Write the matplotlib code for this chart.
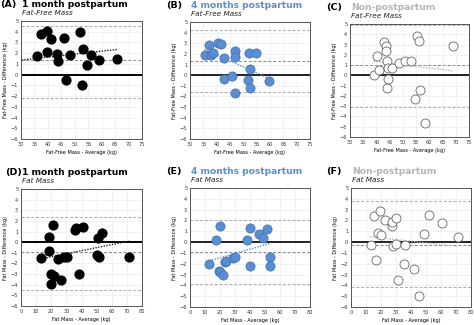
import matplotlib
matplotlib.use("Agg")
import matplotlib.pyplot as plt
import numpy as np

# ---- data ----
a_x = [35.9, 37.4, 39.5, 39.5, 41.1, 43.3, 43.8, 46.1, 46.8, 48.2, 51.8, 52.7, 53.2, 54.5, 56.1, 59.0, 65.8]
a_y = [1.73, 3.77, 4.04, 2.13, 3.36, 1.88, 1.30, 3.46, -0.49, 1.82, 3.95, -0.93, 2.35, 0.93, 1.82, 1.39, 1.48]
a_lines = [1.39, 4.57, -2.22]
a_reg = [(30.2, 1.36), (65.8, 2.35)]

b_x = [35.5, 37.3, 37.7, 38.7, 40.6, 41.6, 42.7, 42.7, 45.9, 47.0, 47.0, 46.9, 52.0, 51.8, 52.6, 52.6, 54.8, 59.6]
b_y = [1.9, 2.8, 1.9, 2.05, 2.98, 2.9, 1.62, -0.33, -0.04, 2.3, 1.72, -1.7, 2.1, -0.41, 0.57, -1.23, 2.1, -0.53]
b_lines = [1.33, 4.23, -1.6]
b_reg = [(35.5, 2.4), (59.6, -0.3)]

c_x = [40.2, 38.9, 40.8, 42.8, 43.6, 43.8, 44.0, 44.3, 44.3, 44.1, 45.7, 48.5, 50.7, 53.1, 55.4, 56.0, 56.4, 54.6, 58.5, 69.1]
c_y = [1.84, 0.0, 0.49, 3.28, 2.85, 2.33, 1.41, 0.75, -0.33, -1.21, 0.72, 1.21, 1.44, 1.41, 3.87, 3.31, -1.38, -2.26, -4.59, 2.89]
c_lines = [1.05, 4.95, -3.08]
c_reg = [(38.9, 1.38), (69.1, 0.43)]

d_x = [13.2, 18.2, 18.7, 19.8, 19.8, 21.1, 22.0, 24.6, 26.6, 28.1, 30.3, 35.4, 36.3, 38.5, 40.7, 50.1, 50.8, 51.6, 53.8, 71.6]
d_y = [-1.48, -0.85, 0.50, -2.96, -3.9, 1.60, -3.2, -1.57, -3.52, -1.38, -1.38, 1.19, 1.32, -2.96, 1.45, -1.23, 0.35, -1.38, 0.88, -1.38]
d_lines = [-0.88, 2.36, -4.47]
d_reg = [(13.2, -1.57), (71.2, 0.1)]

e_x = [12.8, 17.2, 20.3, 19.4, 20.3, 22.1, 23.2, 24.1, 28.7, 30.0, 38.2, 39.7, 40.0, 46.1, 48.9, 51.0, 53.2, 53.4]
e_y = [-2.04, 0.15, 1.49, -2.63, -2.76, -3.03, -1.86, -1.73, -1.49, -1.36, 0.15, 1.30, -2.23, 0.74, 0.37, 1.24, -1.36, -2.23]
e_lines = [-0.87, 2.01, -3.87]
e_reg = [(12.8, -1.73), (53.4, -0.12)]

f_x = [13.3, 15.0, 16.6, 17.7, 19.4, 20.1, 22.5, 27.0, 27.6, 28.1, 30.1, 30.1, 31.2, 36.0, 35.4, 42.2, 45.1, 48.8, 51.7, 60.6, 71.2]
f_y = [-0.31, 2.45, -1.61, 0.80, 2.85, 0.65, 2.04, 1.52, 1.89, -0.37, -0.19, 2.23, -3.5, -0.31, -2.07, -2.48, -5.02, 0.74, 2.54, 1.76, 0.43]
f_lines = [-0.25, 3.81, -4.15]
f_reg = [(12.5, 0.50), (71.2, -0.40)]

W, H = 474, 325
fig = plt.figure(figsize=(W / 100, H / 100), dpi=100)

BLUE = "#5b8ed0"
GRAY = "#b5b5b5"

panels = [
    dict(tag="(A)", title="1 month postpartum", sub="Fat-Free Mass", tc="black",
         x=a_x, y=a_y, lines=a_lines, reg=a_reg, box=(21, 142, 21, 139),
         xlim=(30, 75), xstep=5, style="black", tagx=0, kind="ffm"),
    dict(tag="(B)", title="4 months postpartum", sub="Fat-Free Mass", tc=BLUE,
         x=b_x, y=b_y, lines=b_lines, reg=b_reg, box=(190, 310, 22, 139),
         xlim=(30, 75), xstep=5, style="blue", tagx=166, kind="ffm"),
    dict(tag="(C)", title="Non-postpartum", sub="Fat-Free Mass", tc=GRAY,
         x=c_x, y=c_y, lines=c_lines, reg=c_reg, box=(350, 469, 24, 137),
         xlim=(30, 75), xstep=5, style="white", tagx=326, kind="ffm"),
    dict(tag="(D)", title="1 month postpartum", sub="Fat Mass", tc="black",
         x=d_x, y=d_y, lines=d_lines, reg=d_reg, box=(21, 142, 189, 306),
         xlim=(0, 80), xstep=10, style="black", tagx=5, kind="fm"),
    dict(tag="(E)", title="4 months postpartum", sub="Fat Mass", tc=BLUE,
         x=e_x, y=e_y, lines=e_lines, reg=e_reg, box=(190, 310, 188, 307),
         xlim=(0, 80), xstep=10, style="blue", tagx=166, kind="fm"),
    dict(tag="(F)", title="Non-postpartum", sub="Fat Mass", tc=GRAY,
         x=f_x, y=f_y, lines=f_lines, reg=f_reg, box=(351, 471, 188, 307),
         xlim=(0, 80), xstep=10, style="white", tagx=326, kind="fm"),
]

for p in panels:
    l, r, t, b = p["box"]
    ax = fig.add_axes([l / W, 1 - b / H, (r - l) / W, (b - t) / H])
    ax.set_xlim(*p["xlim"])
    ax.set_ylim(-6, 5)
    ax.set_xticks(np.arange(p["xlim"][0], p["xlim"][1] + 0.1, p["xstep"]))
    ax.set_yticks(np.arange(-6, 6, 1))
    ax.grid(True, color="#ececec", linewidth=0.5)
    ax.set_axisbelow(True)
    ax.tick_params(labelsize=3.6, length=0, pad=2, colors="#333333")
    for s in ax.spines.values():
        s.set_color("#555555")
        s.set_linewidth(0.7)
    if p["kind"] == "ffm":
        ax.set_xlabel("Fat-Free Mass - Average (kg)", fontsize=3.6, labelpad=2)
        ax.set_ylabel("Fat-Free Mass - Difference (kg)", fontsize=3.6, labelpad=2)
    else:
        ax.set_xlabel("Fat Mass - Average (kg)", fontsize=3.6, labelpad=2)
        ax.set_ylabel("Fat Mass - Difference (kg)", fontsize=3.6, labelpad=2)

    zc = "black" if p["style"] == "black" else "#222222"
    ax.axhline(0, color=zc, linewidth=1.4, zorder=2)
    mean, up, lo = p["lines"]
    ax.axhline(mean, color="#888888", linestyle=(0, (3, 2)), linewidth=0.7, zorder=2)
    ax.axhline(up, color="#aaaaaa", linestyle=(0, (3, 2)), linewidth=0.7, zorder=2)
    ax.axhline(lo, color="#aaaaaa", linestyle=(0, (3, 2)), linewidth=0.7, zorder=2)

    (rx0, ry0), (rx1, ry1) = p["reg"]
    if p["style"] == "black":
        rc = "#222222"
    elif p["style"] == "blue":
        rc = BLUE
    else:
        rc = "#bbbbbb"
    ax.plot([rx0, rx1], [ry0, ry1], linestyle=(0, (1, 1)), color=rc, linewidth=1.0, zorder=3)

    if p["style"] == "black":
        ax.scatter(p["x"], p["y"], s=40, color="black", zorder=4)
    elif p["style"] == "blue":
        ax.scatter(p["x"], p["y"], s=44, color=BLUE, edgecolors="#3d6fb0", linewidths=0.5, zorder=4)
    else:
        ax.scatter(p["x"], p["y"], s=42, facecolors="white", edgecolors="#666666", linewidths=0.6, zorder=4)

    ty = t - 16.5
    fig.text(p["tagx"] / W, 1 - ty / H, p["tag"], fontsize=6.8, fontweight="bold",
             va="center", ha="left", color="black")
    fig.text(l / W + 0.002, 1 - ty / H, p["title"], fontsize=6.6, fontweight="bold",
             va="center", ha="left", color=p["tc"])
    fig.text(l / W + 0.002, 1 - (ty + 8.5) / H, p["sub"], fontsize=5.2, style="italic",
             va="center", ha="left", color="#222222")

fig.savefig("out.png", dpi=100)
